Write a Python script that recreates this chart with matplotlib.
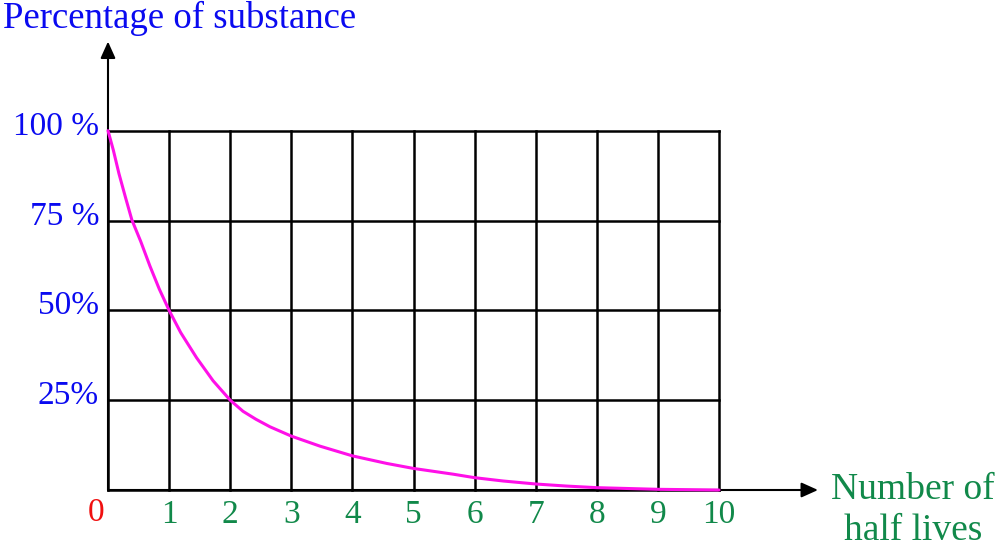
import matplotlib
matplotlib.use("Agg")
import matplotlib.pyplot as plt
from matplotlib.transforms import offset_copy

# ---- data ----
half_lives = [0, 0.087, 0.18, 0.29, 0.39, 0.535, 0.687, 0.84,
              1.0, 1.19, 1.45, 1.72, 2.0, 2.21, 2.42, 2.65, 3.0,
              3.47, 4.0, 4.56, 5.0, 5.65, 6.0, 6.47, 7.0, 7.5, 8.0, 9.0, 10.0]
percent = [100, 94.6, 88.0, 81.2, 75.2, 69.2, 62.3, 55.9,
           50, 43.8, 36.8, 30.4, 25, 21.9, 19.7, 17.6, 15.0,
           12.2, 9.5, 7.4, 6.0, 4.4, 3.43, 2.5, 1.67, 1.1, 0.65, 0.19, 0]
x_ticks = list(range(1, 11))
x_tick_labels = [str(i) for i in x_ticks]
y_ticks = [25, 50, 75, 100]
y_tick_labels = ["25%", "50%", "75 %", "100 %"]
y_title = "Percentage of substance"
x_title_lines = ["Number of", "half lives"]

BLUE = "#0a0af0"
GREEN = "#11894a"
RED = "#f01010"
MAGENTA = "#ff10e8"
FONT = "Liberation Serif"

fig = plt.figure(figsize=(10, 5.47), dpi=100)
ax = fig.add_axes([0.108, 0.1042, 0.611, 0.6569])
ax.set_xlim(0, 10)
ax.set_ylim(0, 100)
for s in ax.spines.values():
    s.set_visible(False)

ax.set_xticks(range(0, 11))
ax.set_yticks([0] + y_ticks)
ax.grid(True, color="black", linewidth=1.8)
ax.set_axisbelow(True)
for gl in ax.get_xgridlines() + ax.get_ygridlines():
    gl.set_clip_on(False)

ax.set_xticklabels([""] + x_tick_labels, fontfamily=FONT, fontsize=24, color=GREEN)
ax.set_yticklabels([])
ax.tick_params(axis="x", length=0, pad=7)
ax.tick_params(axis="y", length=0)

# y labels: baseline slightly below each grid line, right-aligned near axis
ylab_tr = offset_copy(ax.transData, fig=fig, x=-9, y=-4, units="dots")
for v, lab in zip(y_ticks, y_tick_labels):
    ax.text(0, v, lab, transform=ylab_tr, fontfamily=FONT, fontsize=24,
            color=BLUE, ha="right", va="baseline")

# curve
ax.plot(half_lives, percent, color=MAGENTA, linewidth=2.2, clip_on=False, zorder=5,
        solid_joinstyle="round", solid_capstyle="round")

# axes arrows
arrow = dict(arrowstyle="-|>,head_length=1.0,head_width=0.45", color="black",
             lw=1.5, shrinkA=0, shrinkB=0)
ax.annotate("", xy=(11.62, 0), xytext=(0, 0), xycoords="data",
            arrowprops=arrow, annotation_clip=False)
ax.annotate("", xy=(0, 124.8), xytext=(0, 0), xycoords="data",
            arrowprops=arrow, annotation_clip=False)

# origin label
ax.text(-0.2, -2, "0", fontfamily=FONT, fontsize=24, color=RED,
        ha="center", va="top")

# titles
fig.text(0.003, 1 - 28 / 547, y_title, fontfamily=FONT, fontsize=26.5, color=BLUE,
         ha="left", va="baseline")
fig.text(0.913, 1 - 499 / 547, x_title_lines[0], fontfamily=FONT, fontsize=27,
         color=GREEN, ha="center", va="baseline")
fig.text(0.913, 1 - 540 / 547, x_title_lines[1], fontfamily=FONT, fontsize=27,
         color=GREEN, ha="center", va="baseline")

fig.savefig("out.png", dpi=100)
